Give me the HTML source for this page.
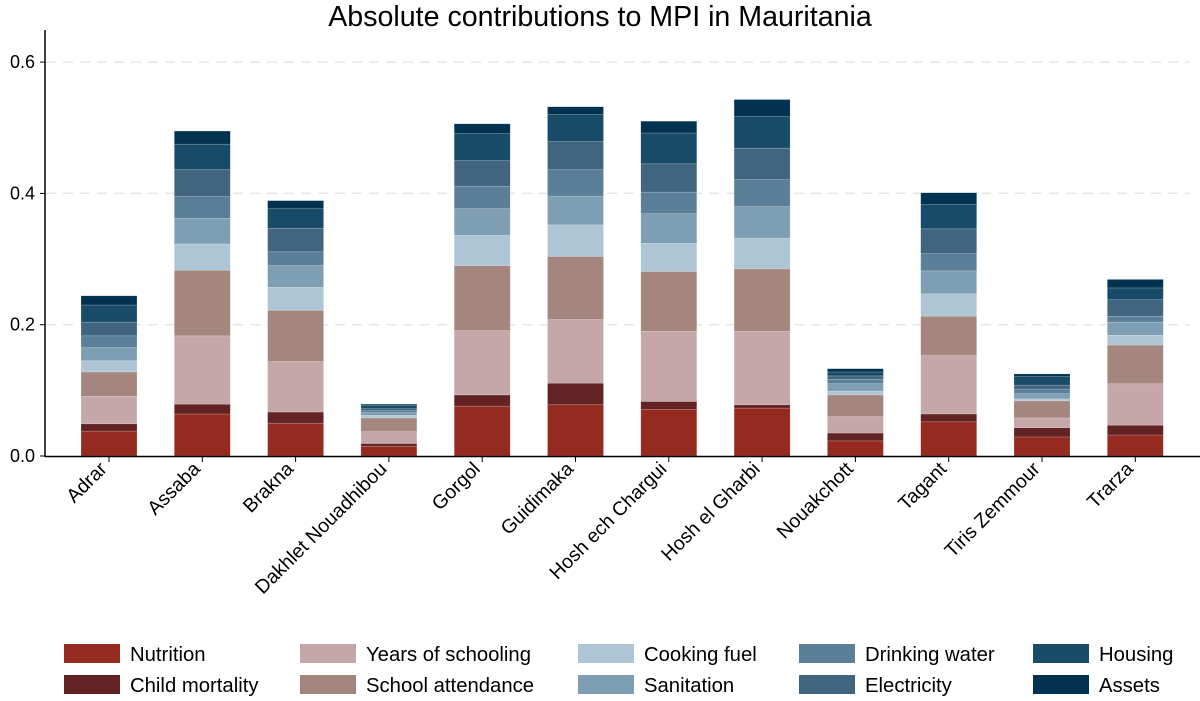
<!DOCTYPE html>
<html><head><meta charset="utf-8"><style>
body{margin:0;background:#fff;font-family:"Liberation Sans",Arial,sans-serif}
svg text{font-family:"Liberation Sans",Arial,sans-serif;fill:#000}
</style></head><body>
<svg id="chart" width="1200" height="696" viewBox="0 0 1200 696">
<text x="600" y="26" font-size="28.6" text-anchor="middle">Absolute contributions to MPI in Mauritania</text>
<g id="grid"></g><g id="bars"></g><g id="axes"></g><g id="legend"></g>
</svg>
<script>
const categories=["Adrar","Assaba","Brakna","Dakhlet Nouadhibou","Gorgol","Guidimaka","Hosh ech Chargui","Hosh el Gharbi","Nouakchott","Tagant","Tiris Zemmour","Trarza"];
const seriesNames=["Nutrition","Child mortality","Years of schooling","School attendance","Cooking fuel","Sanitation","Drinking water","Electricity","Housing","Assets"];
const nutrition=[.038,.064,.050,.015,.076,.078,.071,.073,.023,.052,.029,.032];
const childMortality=[.011,.015,.017,.004,.017,.033,.012,.005,.012,.012,.014,.015];
const yearsSchooling=[.042,.104,.077,.018,.098,.097,.107,.112,.025,.089,.015,.063];
const schoolAttendance=[.037,.100,.078,.021,.099,.096,.091,.095,.033,.060,.026,.059];
const cookingFuel=[.017,.040,.035,.004,.046,.048,.043,.047,.006,.034,.003,.015];
const sanitation=[.020,.039,.033,.004,.041,.044,.045,.048,.011,.035,.008,.020];
const drinkingWater=[.018,.033,.021,.003,.034,.040,.033,.041,.007,.026,.007,.009];
const electricity=[.021,.041,.036,.003,.039,.043,.043,.048,.005,.038,.006,.025];
const housing=[.026,.039,.030,.005,.041,.041,.047,.048,.006,.037,.013,.018];
const assets=[.014,.020,.012,.002,.015,.012,.018,.026,.005,.018,.004,.013];
const yTicks=[0,0.2,0.4,0.6];
const yTickLabels=["0.0","0.2","0.4","0.6"];
const series=[nutrition,childMortality,yearsSchooling,schoolAttendance,cookingFuel,sanitation,drinkingWater,electricity,housing,assets];
const colors=["#952b20","#632224","#c5a7a9","#a4867f","#aec5d5","#7e9eb3","#5b7f98","#41647f","#184b67","#013350"];
const NS="http://www.w3.org/2000/svg";
const y=v=>456-v*656.5;
const x=i=>109+i*93.3;
function mk(t,a,p){const e=document.createElementNS(NS,t);for(const k in a)e.setAttribute(k,a[k]);p.appendChild(e);return e;}
const grid=document.getElementById('grid'),axes=document.getElementById('axes'),bars=document.getElementById('bars'),leg=document.getElementById('legend');
yTicks.forEach((t,i)=>{
 if(t>0){const g=mk('line',{x1:46,x2:1190,y1:y(t),y2:y(t),stroke:'#e6e6e6','stroke-width':1.5,'stroke-dasharray':'10 7'},grid);
 
 }
 const tk=mk('line',{x1:40,x2:45,y1:y(t),y2:y(t),stroke:'#000'},axes);
 
 
 const tl=mk('text',{x:35,y:y(t)+6,'font-size':18,'text-anchor':'end'},axes);tl.textContent=yTickLabels[i];
 
 
});
const ya=mk('line',{x1:45,x2:45,y1:30,y2:457,stroke:'#000','stroke-width':1.5},axes);


const xa=mk('line',{x1:45,x2:1200,y1:456.5,y2:456.5,stroke:'#000','stroke-width':1.5},axes);


categories.forEach((c,i)=>{
 let cum=0;
 series.forEach((s,k)=>{
  const r=mk('rect',{x:x(i)-28,width:56,y:y(cum+s[i]),height:y(cum)-y(cum+s[i]),fill:colors[k],stroke:'rgba(255,255,255,0.35)','stroke-width':0.5},bars);
  
  
  cum+=s[i];
 });
 const tk=mk('line',{x1:x(i),x2:x(i),y1:457,y2:462,stroke:'#000'},axes);
 
 
 const lx=x(i)-1,ly=470;
 const t=mk('text',{x:lx,y:ly,'font-size':19.5,'text-anchor':'end',transform:`rotate(-45 ${lx} ${ly})`},axes);
 t.textContent=c;
 
 
});
const colX=[64,300,578,799,1033];
seriesNames.forEach((n,k)=>{
 const cx=colX[Math.floor(k/2)],cy=k%2?675:644;
 const r=mk('rect',{x:cx,y:cy,width:56,height:19,fill:colors[k]},leg);
 
 
 const t=mk('text',{x:cx+66,y:cy+17,'font-size':20.3},leg);t.textContent=n;
 
 
});
</script>
</body></html>
